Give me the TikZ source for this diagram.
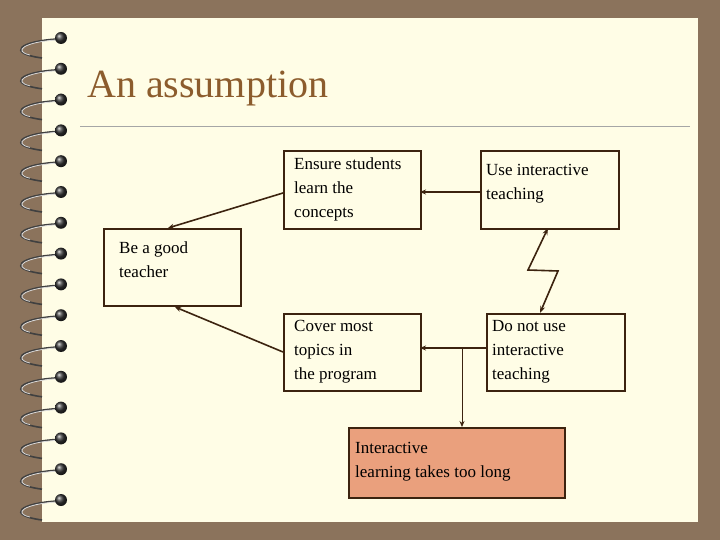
\documentclass[tikz,border=0pt]{standalone}
\usepackage{fontspec}
\setmainfont{Liberation Serif}
\usetikzlibrary{arrows.meta}
\definecolor{bg}{RGB}{139,115,92}
\definecolor{paper}{RGB}{255,253,230}
\definecolor{ink}{RGB}{60,35,15}
\definecolor{titlec}{RGB}{140,92,45}
\definecolor{salmon}{RGB}{234,160,125}
\begin{document}
\begin{tikzpicture}[x=1pt,y=-1pt,
  box/.style={draw=ink,line width=1.6pt,text=black,inner sep=0pt},
  lbl/.style={anchor=north west,text=black,font=\fontsize{17}{24}\selectfont,align=left,inner sep=0pt},
  arr/.style={draw=ink,line width=1.6pt,-{Stealth[length=6pt,width=5pt]}}]
\useasboundingbox (0,0) rectangle (720,540);
\fill[bg] (0,0) rectangle (720,540);
\fill[paper] (42,18) rectangle (698,522);
% spiral
\foreach \i in {0,...,15}{
  \pgfmathsetmacro{\yy}{39+30.8*\i}
  \draw[line width=1.6pt,black!75] (58,\yy) .. controls (20,\yy+2) and (5,\yy+14) .. (42,\yy+19);
  \draw[line width=0.8pt,white!70!gray] (56,\yy+1) .. controls (25,\yy+3) and (12,\yy+12) .. (30,\yy+16);
  \shade[ball color=black!80] (61,\yy-1) circle (6);
}
\node[anchor=base west,text=titlec,font=\fontsize{40}{40}\selectfont,inner sep=0pt] (title) at (87,98) {An assumption};
\draw[gray!70,line width=0.8pt] (80,126) -- (690,126);
% boxes
\node[box,minimum width=137pt,minimum height=78pt,anchor=north west] (ens) at (283,150) {};
\node[lbl] at (294,158) {Ensure students\\learn the\\concepts};
\node[box,minimum width=138pt,minimum height=78pt,anchor=north west] (use) at (480,150) {};
\node[lbl] at (486,164) {Use interactive\\teaching};
\node[box,minimum width=137pt,minimum height=77pt,anchor=north west] (good) at (103,228) {};
\node[lbl] at (119,242) {Be a good\\teacher};
\node[box,minimum width=137pt,minimum height=77pt,anchor=north west] (cov) at (283,313) {};
\node[lbl] at (294,320) {Cover most\\topics in\\the program};
\node[box,minimum width=138pt,minimum height=77pt,anchor=north west] (dont) at (486,313) {};
\node[lbl] at (492,320) {Do not use\\interactive\\teaching};
\node[box,fill=salmon,minimum width=216pt,minimum height=70pt,anchor=north west] (inter) at (348,427) {};
\node[lbl] at (355,442) {Interactive\\learning takes too long};
% connectors
\coordinate (e1) at (283,193); \coordinate (g1) at (168,228);
\draw[arr] (e1) -- (g1);
\coordinate (c1) at (283,352); \coordinate (g2) at (175,307);
\draw[arr] (c1) -- (g2);
\coordinate (u1) at (480,192); \coordinate (e2) at (420,192);
\draw[arr] (u1) -- (e2);
\coordinate (d1) at (486,348); \coordinate (c2) at (420,348);
\draw[arr] (d1) -- (c2);
\coordinate (j) at (462,348); \coordinate (i1) at (462,427);
\draw[draw=ink,line width=0.8pt,-{Stealth[length=6pt,width=5pt]}] (j) -- (i1);
\coordinate (ut) at (548,228); \coordinate (dt) at (540,313);
\draw[draw=ink,line width=1.6pt,{Stealth[length=7pt,width=5pt]}-{Stealth[length=7pt,width=5pt]}] (ut) -- (528,270) -- (558,271) -- (dt);
\end{tikzpicture}
\end{document}
